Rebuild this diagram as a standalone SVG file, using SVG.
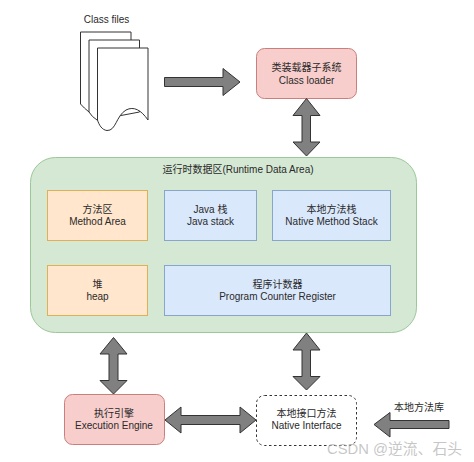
<svg xmlns="http://www.w3.org/2000/svg" width="474" height="462" viewBox="0 0 474 462">
<style>
text{font-family:"Liberation Sans","Noto Sans CJK SC",sans-serif;font-size:10px;fill:#2a2a2a;text-anchor:middle}
.doc{fill:#fff;stroke:#333;stroke-width:1}
.red{fill:#f8cecc;stroke:#c9807c;stroke-width:1}
.org{fill:#ffe6cc;stroke:#dfb056;stroke-width:1}
.blu{fill:#dae8fc;stroke:#88a5cb;stroke-width:1}
.arr{fill:#808080;stroke:#333;stroke-width:1;stroke-linejoin:miter}
</style>
<rect width="474" height="462" fill="#fff"/>
<g id="class-files">
<path class="doc" d="M80.500 32H131V104L89 112Q84 108 80.500 104Z"/>
<path class="doc" d="M89 40H139.500V112L97 120Q92 117 89 112Z"/>
<path class="doc" d="M97.500 48H148V120C141 110 134 106 126 110C116 116 116 131 107 130.500C102 130 99 125 97.500 120Z"/>
<text x="106.500" y="23">Class files</text>
</g>
<g id="class-loader">
<rect class="red" x="256.500" y="48.500" width="100" height="50" rx="8"/>
<text x="306.500" y="71">类装载器子系统</text>
<text x="306.500" y="84">Class loader</text>
</g>
<g id="runtime-data-area">
<rect x="30.500" y="157.500" width="386" height="175" rx="25" fill="#d5e8d4" stroke="#9cc79a"/>
<text x="238" y="173">运行时数据区(Runtime Data Area)</text>
</g>
<g id="method-area">
<rect class="org" x="47.500" y="190.500" width="100" height="50"/>
<text x="97.500" y="213">方法区</text>
<text x="97.500" y="225">Method Area</text>
</g>
<g id="java-stack">
<rect class="blu" x="164.500" y="190.500" width="92" height="50"/>
<text x="210.500" y="213">Java 栈</text>
<text x="210.500" y="225">Java stack</text>
</g>
<g id="native-method-stack">
<rect class="blu" x="272.500" y="190.500" width="118" height="50"/>
<text x="331.500" y="213">本地方法栈</text>
<text x="331.500" y="225">Native Method Stack</text>
</g>
<g id="heap">
<rect class="org" x="47.500" y="265.500" width="100" height="50"/>
<text x="97.500" y="288">堆</text>
<text x="97.500" y="300">heap</text>
</g>
<g id="program-counter-register">
<rect class="blu" x="164.500" y="265.500" width="226" height="50"/>
<text x="277.500" y="288">程序计数器</text>
<text x="277.500" y="300">Program Counter Register</text>
</g>
<g id="execution-engine">
<rect class="red" x="64.500" y="394.500" width="100" height="50" rx="8"/>
<text x="114" y="417">执行引擎</text>
<text x="114" y="429">Execution Engine</text>
</g>
<g id="native-interface">
<rect x="256.500" y="395.500" width="100" height="50" rx="8" fill="#fff" stroke="#333" stroke-dasharray="2.500 2.500"/>
<text x="306.500" y="417">本地接口方法</text>
<text x="306.500" y="429">Native Interface</text>
</g>
<g id="connectors">
<path class="arr" d="M164.500 77.500H223V68.500L240 82 223 95.500V86.500H164.500Z"/>
<path class="arr" d="M306.500 98.500L320 115.500H310.500V142H320L306.500 156 293 142H302V115.500H293Z"/>
<path class="arr" d="M113.500 337.500L127 354H118V380.500H127L113.500 394 100 380.500H109V354H100Z"/>
<path class="arr" d="M306.500 333L320 350H310.500V376.500H320L306.500 390 293 376.500H302V350H293Z"/>
<path class="arr" d="M165 420L181 407V415.500H240V407L256 420 240 433V424.500H181V433Z"/>
<path class="arr" d="M374 424.500L390 412.500V420.500H449V428.500H390V437Z"/>
</g>
<text x="419" y="411">本地方法库</text>
<text x="394.500" y="454" style="font-size:14.800px;fill:#b4b4b4;fill-opacity:.75">CSDN @逆流、石头</text>
</svg>
